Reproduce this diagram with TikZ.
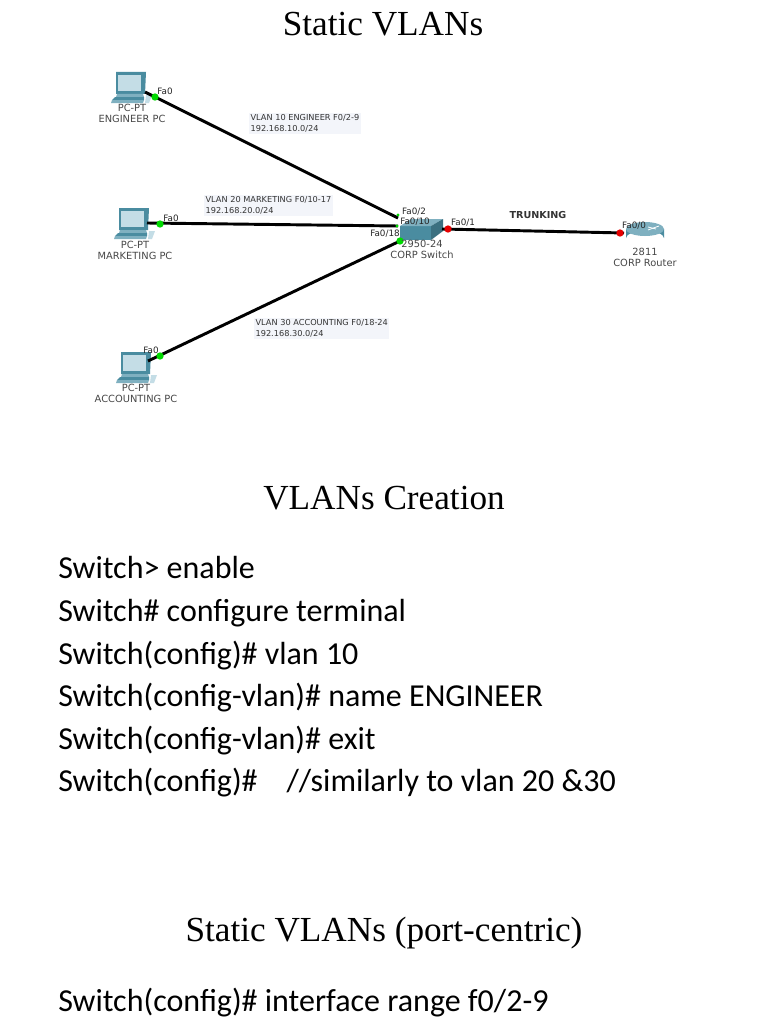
\documentclass[tikz,border=0pt]{standalone}
\usepackage{fontspec}
\setmainfont{Liberation Serif}
\setsansfont{Carlito}
\newfontfamily\pt{DejaVu Sans}
\definecolor{teal1}{HTML}{4A8CA0}
\definecolor{teal2}{HTML}{C4DDE6}
\definecolor{teal3}{HTML}{7FB0C0}
\definecolor{lbl}{HTML}{F3F5FA}
\tikzset{
 x=0.75pt,y=-0.75pt,
 title/.style={font=\rmfamily\fontsize{26.4}{28}\selectfont,text=black,inner sep=0,anchor=center},
 body/.style={font=\sffamily\fontsize{24}{26}\selectfont,text=black,inner sep=0,anchor=base west},
 devlbl/.style={font=\pt\fontsize{7.4}{8.3}\selectfont,text=black!72,inner sep=0,align=center,anchor=center},
 portlbl/.style={font=\pt\fontsize{6.6}{7}\selectfont,text=black!85,inner sep=0.8pt,anchor=center},
 note/.style={font=\pt\fontsize{6.15}{8.2}\selectfont,text=black!80,inner sep=1pt,fill=lbl,align=left,anchor=north west},
 cable/.style={draw=black,line width=2.2pt},
 gdot/.style={circle,fill=green!85!black,inner sep=0,minimum size=5.5pt},
 rdot/.style={circle,fill=red!90!black,inner sep=0,minimum size=5.5pt},
 pcicon/.pic={
  \fill[teal1] (-14,-16) -- (16,-16) -- (15,6) -- (-14,6) -- cycle;
  \fill[teal2] (-12,-13) -- (11,-13) -- (11,3) -- (-12,3) -- cycle;
  \fill[teal3] (-13,6) -- (13,6) -- (14,9) -- (-14,9) -- cycle;
  \fill[teal1] (-15,9) -- (14,9) -- (14,12) -- (-18,12) -- cycle;
  \fill[teal3] (-18,12) -- (14,12) -- (13,15) -- (-19,15) -- cycle;
  \fill[teal2] (16,7) -- (22,7) -- (19,15) -- (15,15) -- cycle;
 },
}
\begin{document}
\begin{tikzpicture}
\useasboundingbox[fill=white] (0,0) rectangle (768,1024);
\node[title] (t1) at (383,24) {Static VLANs};
\node[title] (t2) at (384,498) {VLANs Creation};
\node[title] (t3) at (384,933) {Static VLANs (port-centric)};
\pic at (130,88) {pcicon};
\pic at (133,224) {pcicon};
\pic at (135,368) {pcicon};
% switch
\fill[teal1] (400,226) -- (431,226) -- (431,240) -- (400,240) -- cycle;
\fill[teal3] (400,226) -- (411,219) -- (443,219) -- (431,226) -- cycle;
\fill[teal1!80!black] (431,226) -- (443,219) -- (443,231) -- (431,240) -- cycle;
% router
\fill[teal1] (626,229) -- (626,238) arc[start angle=180,end angle=360,x radius=19,y radius=7] -- (664,229) -- cycle;
\fill[teal3] (645,229) ellipse[x radius=19,y radius=7];
\draw[white,line width=0.6pt] (648,230) -- (659,226);
\draw[white,line width=0.6pt] (648,227) -- (656,229);
\coordinate (pc1) at (145,92);
\coordinate (pc2) at (147,223);
\coordinate (pc3) at (148,361);
\coordinate (sw1) at (398,218);
\coordinate (sw2) at (398,226);
\coordinate (sw3) at (400,241);
\coordinate (sw4) at (442,229);
\coordinate (rt) at (624,233);
\draw[cable] (pc1) -- (sw1);
\draw[cable] (pc2) -- (sw2);
\draw[cable] (pc3) -- (sw3);
\draw[cable] (sw4) -- (rt);
\node[gdot] (d1) at (155,97) {};
\node[gdot] (d2) at (160,224) {};
\node[gdot] (d3) at (160,356) {};
\node[gdot,minimum size=2.5pt] (d4) at (398,215) {};
\node[gdot,minimum size=2.5pt] (d5) at (397,226) {};
\node[gdot] (d6) at (400,241) {};
\node[rdot] (d7) at (448,229) {};
\node[rdot] (d8) at (620,233) {};
\node[portlbl] (p1) at (165,91) {Fa0};
\node[portlbl] (p2) at (171,218) {Fa0};
\node[portlbl] (p3) at (151,350) {Fa0};
\node[portlbl] (p4) at (414,212) {Fa0/2};
\node[portlbl] (p5) at (415,222) {Fa0/10};
\node[portlbl] (p6) at (385,234) {Fa0/18};
\node[portlbl] (p7) at (463,223) {Fa0/1};
\node[portlbl] (p8) at (634,226) {Fa0/0};
\node[devlbl] (l1) at (132,113) {PC-PT\\ENGINEER PC};
\node[devlbl] (l2) at (135,250) {PC-PT\\MARKETING PC};
\node[devlbl] (l3) at (136,393) {PC-PT\\ACCOUNTING PC};
\node[devlbl] (l4) at (422,249) {2950-24\\CORP Switch};
\node[devlbl] (l5) at (645,257) {2811\\CORP Router};
\node[note] (n1) at (249,113) {VLAN 10 ENGINEER F0/2-9\\192.168.10.0/24};
\node[note] (n2) at (204,195) {VLAN 20 MARKETING F0/10-17\\192.168.20.0/24};
\node[note] (n3) at (254,318) {VLAN 30 ACCOUNTING F0/18-24\\192.168.30.0/24};
\node[font=\pt\bfseries\fontsize{7.2}{8}\selectfont,text=black!80,inner sep=0] (tr) at (538,215) {TRUNKING};
\node[body] (c1) at (58,578) {Switch> enable};
\node[body] (c2) at (58,621) {Switch\# configure terminal};
\node[body] (c3) at (58,664) {Switch(config)\# vlan 10};
\node[body] (c4) at (58,706) {Switch(config-vlan)\# name ENGINEER};
\node[body] (c5) at (58,749) {Switch(config-vlan)\# exit};
\node[body] (c6) at (58,791) {Switch(config)\#\ \ \ \ //similarly to vlan 20 \&30};
\node[body] (c7) at (58,1011) {Switch(config)\# interface range f0/2-9};
\end{tikzpicture}
\end{document}
